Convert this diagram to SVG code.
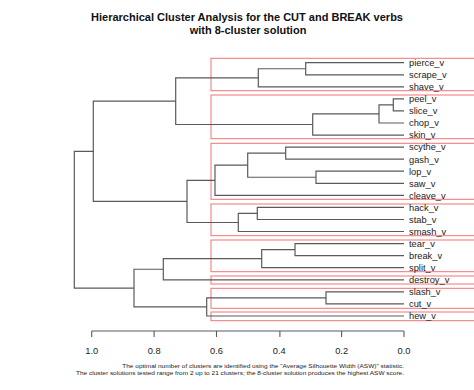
<svg xmlns="http://www.w3.org/2000/svg" width="474" height="390" viewBox="0 0 474 390">
<style>
text{font-family:"Liberation Sans",Arial,sans-serif;fill:#222}
.title{font-size:11px;font-weight:bold;text-anchor:middle;fill:#111}
.leaf{font-size:9.3px}
.tick{font-size:9.3px;text-anchor:middle}
.note{font-size:5.8px;text-anchor:end}
.den path{fill:none;stroke:#5a5a5a;stroke-width:1.2}
.box rect{fill:none;stroke:#f07474;stroke-width:1}
.axis path{fill:none;stroke:#5a5a5a;stroke-width:1.1}
</style>
<rect width="474" height="390" fill="#fff"/>
<g id="title">
<text class="title" x="247" y="20.6">Hierarchical Cluster Analysis for the CUT and BREAK verbs</text>
<text class="title" x="248" y="33.6">with 8-cluster solution</text>
</g>
<g id="clusters" class="box">
<rect x="211" y="58.3" width="280" height="32.4"/>
<rect x="211" y="95" width="280" height="43.7"/>
<rect x="211" y="143.3" width="280" height="56"/>
<rect x="211" y="204" width="280" height="31.7"/>
<rect x="211" y="240" width="280" height="31.7"/>
<rect x="211" y="276" width="280" height="8"/>
<rect x="211" y="288.3" width="280" height="20"/>
<rect x="211" y="312" width="280" height="8.7"/>
</g>
<g id="connectors" class="den">
<path d="M404 62.7H305.7V74.8H404"/>
<path d="M305.7 68.75H258.3V86.8H404"/>
<path d="M404 98.9H393.3V110.9H404"/>
<path d="M393.3 104.9H379V123H404"/>
<path d="M379 113.95H312.7V135.1H404"/>
<path d="M258.3 77.8H175.7V124.5H312.7"/>
<path d="M404 147.1H285.7V159.2H404"/>
<path d="M404 171.2H316V183.3H404"/>
<path d="M285.7 153.15H247.7V177.25H316"/>
<path d="M247.7 165.2H215V195.4H404"/>
<path d="M404 207.4H257.3V219.5H404"/>
<path d="M257.3 213.45H238.3V231.5H404"/>
<path d="M215 180.3H187V222.5H238.3"/>
<path d="M175.7 101.15H93.3V201.4H187"/>
<path d="M404 243.6H295V255.7H404"/>
<path d="M295 249.65H261.7V267.7H404"/>
<path d="M261.7 258.7H163.3V279.8H404"/>
<path d="M404 291.8H326V303.9H404"/>
<path d="M326 297.85H206.7V316H404"/>
<path d="M163.3 269.25H134V306.9H206.7"/>
<path d="M93.3 151.3H74.3V288.1H134"/>
</g>
<g id="leaves" class="leaf">
<text x="409" y="66">pierce_v</text>
<text x="409" y="78.1">scrape_v</text>
<text x="409" y="90.1">shave_v</text>
<text x="409" y="102.2">peel_v</text>
<text x="409" y="114.2">slice_v</text>
<text x="409" y="126.3">chop_v</text>
<text x="409" y="138.4">skin_v</text>
<text x="409" y="150.4">scythe_v</text>
<text x="409" y="162.5">gash_v</text>
<text x="409" y="174.5">lop_v</text>
<text x="409" y="186.6">saw_v</text>
<text x="409" y="198.7">cleave_v</text>
<text x="409" y="210.7">hack_v</text>
<text x="409" y="222.8">stab_v</text>
<text x="409" y="234.8">smash_v</text>
<text x="409" y="246.9">tear_v</text>
<text x="409" y="259">break_v</text>
<text x="409" y="271">split_v</text>
<text x="409" y="283.1">destroy_v</text>
<text x="409" y="295.1">slash_v</text>
<text x="409" y="307.2">cut_v</text>
<text x="409" y="319.3">hew_v</text>
</g>
<g id="axis" class="axis">
<path d="M91.7 331H404M91.7 331V337M154.1 331V337M216.5 331V337M279.9 331V337M341.6 331V337M404 331V337"/>
</g>
<g id="axis-labels" class="tick">
<text x="91.7" y="353.5">1.0</text>
<text x="154.1" y="353.5">0.8</text>
<text x="216.5" y="353.5">0.6</text>
<text x="279.3" y="353.5">0.4</text>
<text x="341.6" y="353.5">0.2</text>
<text x="404" y="353.5">0.0</text>
</g>
<g id="note" class="note">
<text x="404" y="367.6" textLength="281.7" lengthAdjust="spacingAndGlyphs">The optimal number of clusters are identified using the "Average Silhouette Width (ASW)" statistic.</text>
<text x="404" y="374.6" textLength="328" lengthAdjust="spacingAndGlyphs">The cluster solutions tested range from 2 up to 21 clusters; the 8-cluster solution produces the highest ASW score.</text>
</g>
</svg>
